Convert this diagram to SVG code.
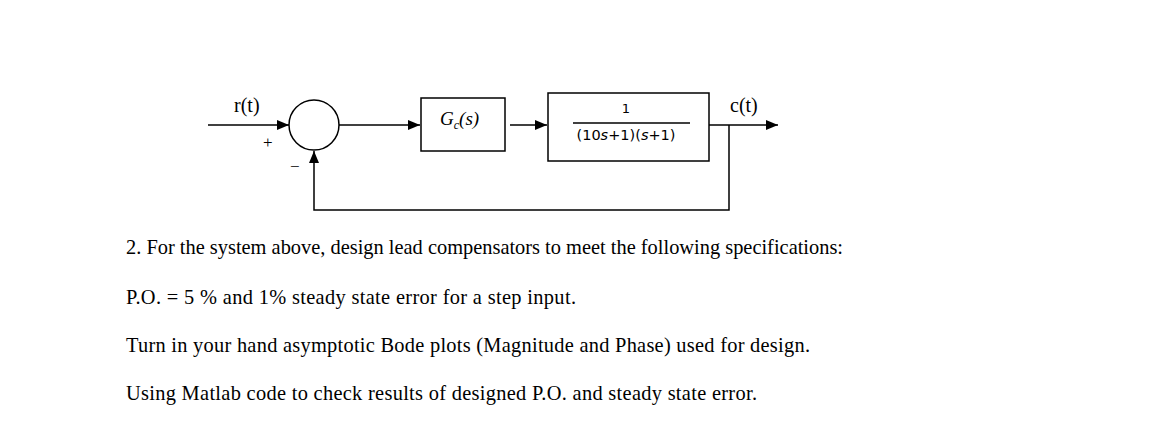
<svg xmlns="http://www.w3.org/2000/svg" width="1170" height="448" viewBox="0 0 1170 448">
<defs><marker id="a" markerWidth="12" markerHeight="10" refX="12" refY="5" orient="auto" markerUnits="userSpaceOnUse"><path d="M0,0L12,5L0,10Z" fill="#000"/></marker></defs>
<style>.s{font-family:"Liberation Serif",serif;fill:#000}.l{stroke:#000;stroke-width:1.5;fill:none}</style>
<rect width="1170" height="448" fill="#fff"/>
<g id="sum"><circle class="l" cx="314" cy="125" r="25"/></g>
<g id="gc"><rect class="l" x="421" y="98" width="84" height="53"/><text class="s" x="440" y="125" font-size="19" font-style="italic">G<tspan font-size="12" dy="4">c</tspan><tspan dy="-4">(s)</tspan></text></g>
<g id="plant"><rect class="l" x="548" y="93" width="161" height="68"/><text x="626" y="113" font-size="13" font-family="DejaVu Sans,sans-serif" text-anchor="middle">1</text><line x1="573" y1="123" x2="690" y2="123" stroke="#000" stroke-width="1.5"/><text x="626" y="140" font-size="14.5" font-family="DejaVu Sans,sans-serif" text-anchor="middle">(10<tspan font-style="italic">s</tspan>+1)(<tspan font-style="italic">s</tspan>+1)</text></g>
<g id="connectors">
<line class="l" x1="208" y1="125" x2="289" y2="125" marker-end="url(#a)"/>
<line class="l" x1="339" y1="125" x2="420" y2="125" marker-end="url(#a)"/>
<line class="l" x1="510" y1="125" x2="547" y2="125" marker-end="url(#a)"/>
<line class="l" x1="709" y1="125" x2="778" y2="125" marker-end="url(#a)"/>
<polyline class="l" points="729,125 729,210 314,210 314,151" marker-end="url(#a)"/>
</g>
<g class="s" font-size="20">
<text x="234" y="112">r(t)</text>
<text x="730" y="112">c(t)</text>
<text x="263" y="148" font-size="17">+</text>
<text x="290" y="172" font-size="17">−</text>
</g>
<g class="s" font-size="20.4">
<text x="126" y="254" textLength="717">2. For the system above, design lead compensators to meet the following specifications:</text>
<text x="126" y="304" textLength="450">P.O. = 5 % and 1% steady state error for a step input.</text>
<text x="126" y="352" textLength="684">Turn in your hand asymptotic Bode plots (Magnitude and Phase) used for design.</text>
<text x="126" y="400" textLength="631">Using Matlab code to check results of designed P.O. and steady state error.</text>
</g>
</svg>
